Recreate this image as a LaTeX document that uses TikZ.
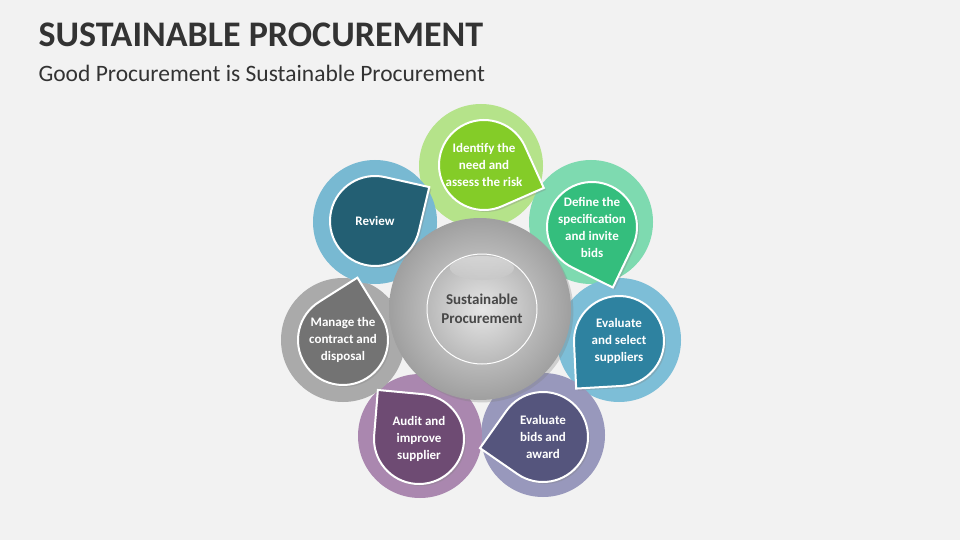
\documentclass[tikz,border=0pt]{standalone}
\usepackage{fontspec}
\setmainfont{Carlito}
\usetikzlibrary{calc,shadows}
\definecolor{bg}{HTML}{F2F2F2}
\definecolor{ttl}{HTML}{333333}
\newcommand\tear[6]{% x,y,angle,color,name,text
  \path[fill=#4,draw=white,line width=2pt,drop shadow={opacity=0.3,shadow xshift=2pt,shadow yshift=-2pt}]
    (#1,-#2) ++(#3+45:45) arc[start angle=#3+45,end angle=#3+315,radius=45]
    -- ($(#1,-#2)+(#3:64)$) -- cycle;
  \node[tx] (#5) at (#1,-#2) {#6};}
\begin{document}
\begin{tikzpicture}[x=1pt,y=1pt,
  tx/.style={text=white,font=\fontsize{13}{17}\selectfont\bfseries,align=center}]
\fill[bg] (0,0) rectangle (960,-540);
\useasboundingbox (0,0) rectangle (960,-540);
\node[anchor=west,text=ttl,font=\fontsize{36}{40}\selectfont\bfseries] (title) at (35,-35) {SUSTAINABLE PROCUREMENT};
\node[anchor=west,text=ttl,font=\fontsize{23.5}{28}\selectfont] (sub) at (35,-73) {Good Procurement is Sustainable Procurement};
% rings
\fill[color={rgb,255:red,181;green,227;blue,138}] (481,-166) circle[radius=62];
\fill[color={rgb,255:red,126;green,218;blue,176}] (591,-222) circle[radius=62];
\fill[color={rgb,255:red,125;green,190;blue,215}] (619,-340) circle[radius=62];
\fill[color={rgb,255:red,152;green,152;blue,188}] (543,-435) circle[radius=62];
\fill[color={rgb,255:red,170;green,135;blue,175}] (420,-436) circle[radius=62];
\fill[color={rgb,255:red,170;green,170;blue,170}] (343,-340) circle[radius=62];
\fill[color={rgb,255:red,120;green,185;blue,210}] (375,-222) circle[radius=62];
% center
\shade[inner color=gray!25,outer color=gray!75,drop shadow={opacity=0.3}] (480,-309) circle[radius=91];
\shade[inner color=gray!20,outer color=gray!55] (482,-309) circle[radius=55];
\draw[white,line width=1pt] (482,-309) circle[radius=55];
\shade[top color=white!80!gray,bottom color=gray!45,opacity=0.6] (482,-268) ellipse[x radius=32,y radius=12];
\node[text=ttl!90,font=\fontsize{15}{19}\selectfont\bfseries,align=center] (ctr) at (482,-309) {Sustainable\\Procurement};
% teardrops
\tear{484}{165}{-21}{{rgb,255:red,132;green,204;blue,40}}{t1}{Identify the\\need and\\assess the risk}
\tear{592}{227}{-71}{{rgb,255:red,52;green,190;blue,125}}{t2}{Define the\\specification\\and invite\\bids}
\tear{619}{341}{-132}{{rgb,255:red,46;green,130;blue,160}}{t3}{Evaluate\\and select\\suppliers}
\tear{543}{437}{190}{{rgb,255:red,85;green,85;blue,125}}{t4}{Evaluate\\bids and\\award}
\tear{419}{439}{130}{{rgb,255:red,110;green,75;blue,115}}{t5}{Audit and\\improve\\supplier}
\tear{343}{340}{77}{{rgb,255:red,115;green,115;blue,115}}{t6}{Manage the\\contract and\\disposal}
\tear{375}{221}{32}{{rgb,255:red,35;green,95;blue,115}}{t7}{Review}
\end{tikzpicture}
\end{document}
